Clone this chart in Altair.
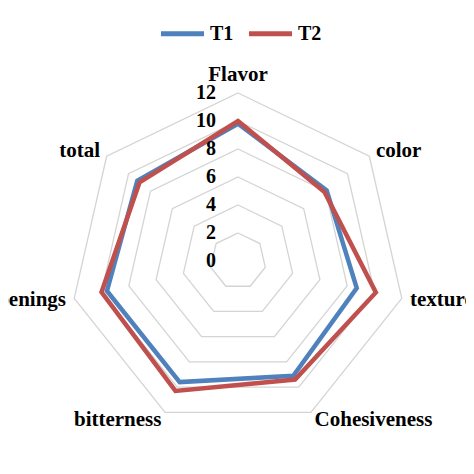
import numpy as np
import pandas as pd
import altair as alt

categories = ["Flavor", "color", "texture", "Cohesiveness", "bitterness", "openings", "total"]
t1_scores = [9.8, 8.1, 8.7, 9.1, 9.6, 9.6, 9.2]
t2_scores = [10.0, 7.9, 10.1, 9.4, 10.3, 10.0, 9.0]
series_names = ["T1", "T2"]
series_colors = ["#4F81BD", "#C0504D"]
grid_levels = [2, 4, 6, 8, 10, 12]
tick_values = [0, 2, 4, 6, 8, 10, 12]
label_radius = 12.6

font = "Liberation Serif"
n = len(categories)
angles = np.arange(n) * 2 * np.pi / n


def polar(r, k):
    return r * np.sin(angles[k]), r * np.cos(angles[k])


# score polygons
rows = []
for name, scores in zip(series_names, [t1_scores, t2_scores]):
    for k, v in enumerate(scores):
        x, y = polar(v, k)
        rows.append({"Series": name, "Attribute": categories[k], "order": k, "x": x, "y": y})
df_scores = pd.DataFrame(rows)

# heptagon grid
rows = []
for lev in grid_levels:
    for k in range(n):
        x, y = polar(lev, k)
        rows.append({"level": lev, "order": k, "x": x, "y": y})
df_grid = pd.DataFrame(rows)

# attribute labels, grouped by which side of the chart they sit on
rows = []
for k, cat in enumerate(categories):
    x, y = polar(label_radius, k)
    s = np.sin(angles[k])
    side = "left" if s > 0.1 else ("right" if s < -0.1 else "center")
    rows.append({"label": cat, "side": side, "x": x, "y": y})
df_labels = pd.DataFrame(rows)

df_ticks = pd.DataFrame({"x": [0.0] * len(tick_values), "y": tick_values,
                         "text": [str(t) for t in tick_values]})

xs = alt.Scale(domain=[-230 / 14, 228 / 14], nice=False, zero=False)
ys = alt.Scale(domain=[-205 / 14, 253 / 14], nice=False, zero=False)
X = alt.X("x:Q", scale=xs, axis=None)
Y = alt.Y("y:Q", scale=ys, axis=None)

grid = alt.Chart(df_grid).mark_line(
    interpolate="linear-closed", color="#D4D4D4", strokeWidth=1.3
).encode(x=X, y=Y, detail="level:N", order="order:Q")

lines = alt.Chart(df_scores).mark_line(
    interpolate="linear-closed", strokeWidth=4.5, strokeJoin="miter"
).encode(
    x=X, y=Y, order="order:Q",
    color=alt.Color("Series:N",
                    scale=alt.Scale(domain=series_names, range=series_colors),
                    legend=alt.Legend(orient="none", legendX=150, legendY=1,
                                      direction="horizontal", title=None,
                                      symbolType="stroke", symbolSize=1850,
                                      symbolStrokeWidth=5, labelFont=font,
                                      labelFontWeight="bold", labelFontSize=20,
                                      labelColor="black", labelOffset=3,
                                      columnPadding=4)),
)

ticks = alt.Chart(df_ticks).mark_text(
    align="right", baseline="middle", dx=-22, font=font, fontWeight="bold", fontSize=20, color="black"
).encode(x=X, y=Y, text="text:N")

label_layers = []
for side in ["left", "right", "center"]:
    base = "bottom" if side == "center" else "middle"
    label_layers.append(
        alt.Chart(df_labels).transform_filter(alt.datum.side == side).mark_text(
            align=side, baseline=base, font=font, fontWeight="bold", fontSize=21, color="black"
        ).encode(x=X, y=Y, text="label:N")
    )

chart = alt.layer(grid, lines, ticks, *label_layers).properties(
    width=458, height=458, autosize=alt.AutoSizeParams(type="none"), padding=0
).configure_view(stroke=None)

chart.save("out.html", embed_options={"renderer": "svg", "actions": False})
